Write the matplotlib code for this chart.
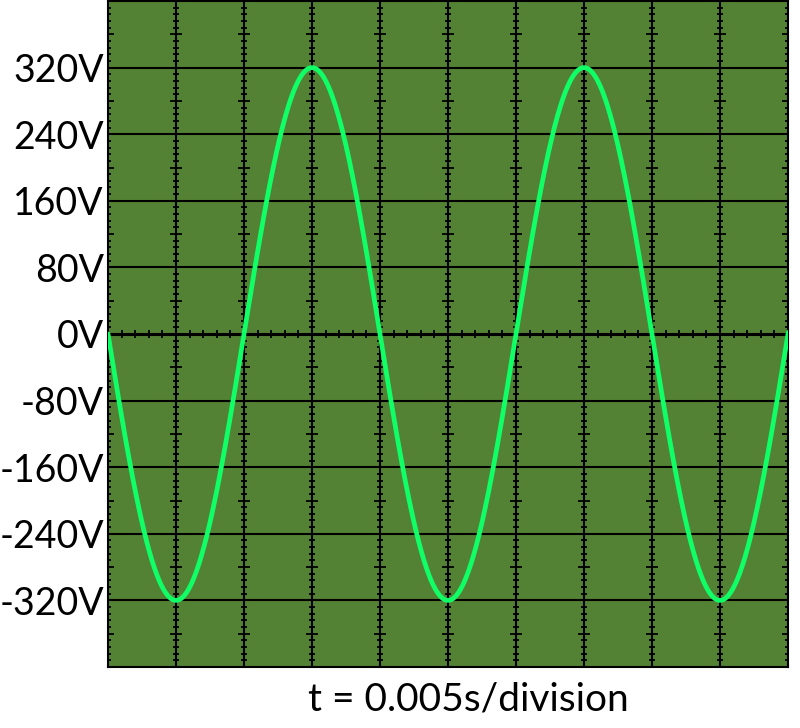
import numpy as np
import matplotlib
matplotlib.use("Agg")
import matplotlib.pyplot as plt

# signal: mains voltage as seen on the scope
amplitude = 320.0      # V peak
frequency = 50.0       # Hz
phase_sign = -1        # trace starts at 0V going down

# scope settings
time_per_div = 0.005   # s
volts_per_div = 80.0   # V
n_divs_x = 10
n_divs_y = 10

ytick_values = [-320, -240, -160, -80, 0, 80, 160, 240, 320]
ytick_labels = [f"{v}V" for v in ytick_values]
xlabel_text = "t = 0.005s/division"

BG = "#548235"
TRACE = "#10ff66"


def main():
    plt.rcParams['font.family'] = ['Lato', 'DejaVu Sans']

    fig = plt.figure(figsize=(8, 7.28), dpi=100)
    ax = fig.add_axes([108 / 800, 61 / 728, 680 / 800, 666 / 728])
    ax.set_facecolor(BG)

    t_max = n_divs_x * time_per_div
    v_max = n_divs_y / 2 * volts_per_div
    ax.set_xlim(0, t_max)
    ax.set_ylim(-v_max, v_max)

    # grid lines
    xdivs = np.arange(0, n_divs_x + 1) * time_per_div
    ydivs = np.arange(-n_divs_y // 2, n_divs_y // 2 + 1) * volts_per_div
    for x in xdivs[1:-1]:
        ax.axvline(x, color="black", lw=1.5, zorder=1)
    for y in ydivs[1:-1]:
        ax.axhline(y, color="black", lw=1.5 if y != 0 else 2.2, zorder=1)

    # small ticks on every vertical line (incl. the frame edges)
    small_y = np.arange(-v_max, v_max + 0.1, volts_per_div / 10)
    small_y = [y for y in small_y if (y % volts_per_div) != 0]
    half_y = [y for y in small_y if (y % (volts_per_div / 2)) == 0]
    tenth_y = [y for y in small_y if y not in half_y]
    for x in xdivs:
        ax.plot([x] * len(tenth_y), tenth_y, ls="none", marker="_",
                ms=4.5, mew=1.3, color="black", zorder=2, clip_on=True)
        ax.plot([x] * len(half_y), half_y, ls="none", marker="_",
                ms=9, mew=1.3, color="black", zorder=2, clip_on=True)

    # small ticks along the 0V line
    small_x = [x for i, x in enumerate(np.arange(0, t_max + 1e-9, time_per_div / 5))
               if i % 5 != 0]
    ax.plot(small_x, [0] * len(small_x), ls="none", marker="|",
            ms=5.5, mew=1.3, color="black", zorder=2)

    # the trace
    t = np.linspace(0, t_max * 1.01, 2000)
    v = phase_sign * amplitude * np.sin(2 * np.pi * frequency * t)
    ax.plot(t, v, color=TRACE, lw=3.4, zorder=3, solid_capstyle="round")

    ax.set_xticks(xdivs)
    ax.set_xticklabels([])
    ax.set_yticks(ytick_values)
    ax.set_yticklabels(ytick_labels, fontsize=27)
    ax.tick_params(length=0, pad=3)

    for s in ax.spines.values():
        s.set_color("black")
        s.set_linewidth(1.5)

    fig.text(468 / 800, 17 / 728, xlabel_text, fontsize=28,
             ha="center", va="baseline")

    fig.savefig("out.png", dpi=100)


if __name__ == "__main__":
    main()
